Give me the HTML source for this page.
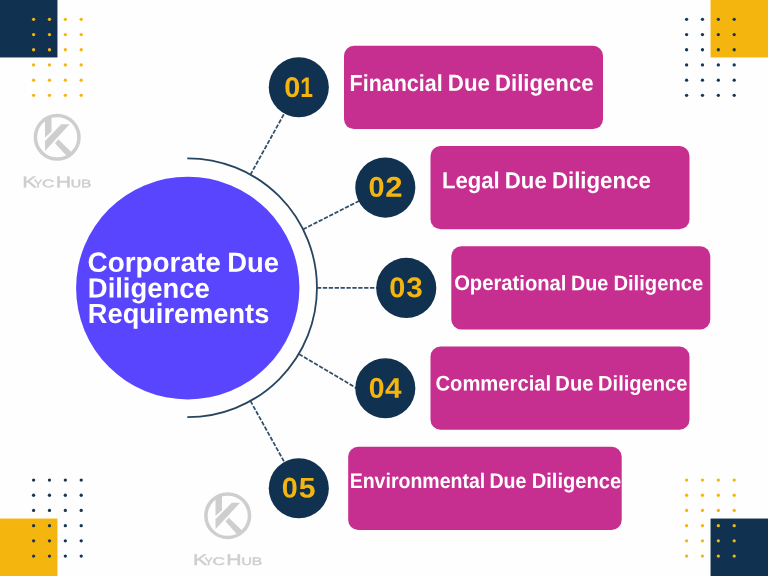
<!DOCTYPE html>
<html lang="en"><head><meta charset="utf-8"><title>Corporate Due Diligence Requirements</title>
<style>html,body{margin:0;padding:0;background:#fefefe;}body{width:768px;height:576px;overflow:hidden;}svg{display:block;will-change:transform;transform:translateZ(0)}text{font-family:"Liberation Sans",sans-serif;font-weight:bold;text-rendering:geometricPrecision}</style></head><body>
<svg width="768" height="576" viewBox="0 0 768 576">
<rect width="768" height="576" fill="#fefefe"/>
<rect x="0" y="0" width="57.45" height="57.45" fill="#10314f"/>
<rect x="710.55" y="0" width="57.45" height="57.45" fill="#f5b50f"/>
<rect x="0" y="518.55" width="57.45" height="57.45" fill="#f5b50f"/>
<rect x="710.55" y="518.55" width="57.45" height="57.45" fill="#10314f"/>
<g fill="#f5b50f"><circle cx="33.60" cy="19.35" r="1.65"/><circle cx="33.60" cy="34.55" r="1.65"/><circle cx="33.60" cy="49.75" r="1.65"/><circle cx="33.60" cy="64.95" r="1.65"/><circle cx="33.60" cy="80.15" r="1.65"/><circle cx="33.60" cy="95.35" r="1.65"/><circle cx="49.47" cy="19.35" r="1.65"/><circle cx="49.47" cy="34.55" r="1.65"/><circle cx="49.47" cy="49.75" r="1.65"/><circle cx="49.47" cy="64.95" r="1.65"/><circle cx="49.47" cy="80.15" r="1.65"/><circle cx="49.47" cy="95.35" r="1.65"/><circle cx="65.34" cy="19.35" r="1.65"/><circle cx="65.34" cy="34.55" r="1.65"/><circle cx="65.34" cy="49.75" r="1.65"/><circle cx="65.34" cy="64.95" r="1.65"/><circle cx="65.34" cy="80.15" r="1.65"/><circle cx="65.34" cy="95.35" r="1.65"/><circle cx="81.21" cy="19.35" r="1.65"/><circle cx="81.21" cy="34.55" r="1.65"/><circle cx="81.21" cy="49.75" r="1.65"/><circle cx="81.21" cy="64.95" r="1.65"/><circle cx="81.21" cy="80.15" r="1.65"/><circle cx="81.21" cy="95.35" r="1.65"/></g>
<g fill="#173654"><circle cx="686.60" cy="19.35" r="1.65"/><circle cx="686.60" cy="34.55" r="1.65"/><circle cx="686.60" cy="49.75" r="1.65"/><circle cx="686.60" cy="64.95" r="1.65"/><circle cx="686.60" cy="80.15" r="1.65"/><circle cx="686.60" cy="95.35" r="1.65"/><circle cx="702.47" cy="19.35" r="1.65"/><circle cx="702.47" cy="34.55" r="1.65"/><circle cx="702.47" cy="49.75" r="1.65"/><circle cx="702.47" cy="64.95" r="1.65"/><circle cx="702.47" cy="80.15" r="1.65"/><circle cx="702.47" cy="95.35" r="1.65"/><circle cx="718.34" cy="19.35" r="1.65"/><circle cx="718.34" cy="34.55" r="1.65"/><circle cx="718.34" cy="49.75" r="1.65"/><circle cx="718.34" cy="64.95" r="1.65"/><circle cx="718.34" cy="80.15" r="1.65"/><circle cx="718.34" cy="95.35" r="1.65"/><circle cx="734.21" cy="19.35" r="1.65"/><circle cx="734.21" cy="34.55" r="1.65"/><circle cx="734.21" cy="49.75" r="1.65"/><circle cx="734.21" cy="64.95" r="1.65"/><circle cx="734.21" cy="80.15" r="1.65"/><circle cx="734.21" cy="95.35" r="1.65"/></g>
<g fill="#173654"><circle cx="33.60" cy="480.05" r="1.65"/><circle cx="33.60" cy="495.25" r="1.65"/><circle cx="33.60" cy="510.45" r="1.65"/><circle cx="33.60" cy="525.65" r="1.65"/><circle cx="33.60" cy="540.85" r="1.65"/><circle cx="33.60" cy="556.05" r="1.65"/><circle cx="49.47" cy="480.05" r="1.65"/><circle cx="49.47" cy="495.25" r="1.65"/><circle cx="49.47" cy="510.45" r="1.65"/><circle cx="49.47" cy="525.65" r="1.65"/><circle cx="49.47" cy="540.85" r="1.65"/><circle cx="49.47" cy="556.05" r="1.65"/><circle cx="65.34" cy="480.05" r="1.65"/><circle cx="65.34" cy="495.25" r="1.65"/><circle cx="65.34" cy="510.45" r="1.65"/><circle cx="65.34" cy="525.65" r="1.65"/><circle cx="65.34" cy="540.85" r="1.65"/><circle cx="65.34" cy="556.05" r="1.65"/><circle cx="81.21" cy="480.05" r="1.65"/><circle cx="81.21" cy="495.25" r="1.65"/><circle cx="81.21" cy="510.45" r="1.65"/><circle cx="81.21" cy="525.65" r="1.65"/><circle cx="81.21" cy="540.85" r="1.65"/><circle cx="81.21" cy="556.05" r="1.65"/></g>
<g fill="#f5b50f"><circle cx="686.60" cy="480.05" r="1.65"/><circle cx="686.60" cy="495.25" r="1.65"/><circle cx="686.60" cy="510.45" r="1.65"/><circle cx="686.60" cy="525.65" r="1.65"/><circle cx="686.60" cy="540.85" r="1.65"/><circle cx="686.60" cy="556.05" r="1.65"/><circle cx="702.47" cy="480.05" r="1.65"/><circle cx="702.47" cy="495.25" r="1.65"/><circle cx="702.47" cy="510.45" r="1.65"/><circle cx="702.47" cy="525.65" r="1.65"/><circle cx="702.47" cy="540.85" r="1.65"/><circle cx="702.47" cy="556.05" r="1.65"/><circle cx="718.34" cy="480.05" r="1.65"/><circle cx="718.34" cy="495.25" r="1.65"/><circle cx="718.34" cy="510.45" r="1.65"/><circle cx="718.34" cy="525.65" r="1.65"/><circle cx="718.34" cy="540.85" r="1.65"/><circle cx="718.34" cy="556.05" r="1.65"/><circle cx="734.21" cy="480.05" r="1.65"/><circle cx="734.21" cy="495.25" r="1.65"/><circle cx="734.21" cy="510.45" r="1.65"/><circle cx="734.21" cy="525.65" r="1.65"/><circle cx="734.21" cy="540.85" r="1.65"/><circle cx="734.21" cy="556.05" r="1.65"/></g>
<g transform="translate(57.2,137.3)" fill="#cecece"><circle cx="0" cy="0" r="21.8" fill="none" stroke="#cecece" stroke-width="3.5"/><polygon points="-12.2,-17.5 -5.7,-20.5 -5.7,-5.55 -12.2,0.3"/><polygon points="-12.2,3.6 4.05,-13.05 12.4,-13.05 -12.2,13.6"/><polygon points="1.1,2.0 -2.2,5.9 9.5,18.8 14.3,14.9"/>
<g transform="translate(-57.2,-137.3)"><text y="187.30" transform="rotate(0.03 22.33 187.30)" font-size="15.8" fill="#cecece" style="font-weight:normal;font-variant:small-caps" stroke="#cecece" stroke-width="0.4"><tspan x="22.33" textLength="14.42" lengthAdjust="spacingAndGlyphs">K</tspan><tspan x="34.03" textLength="8.24" lengthAdjust="spacingAndGlyphs">y</tspan><tspan x="42.03" textLength="12.43" lengthAdjust="spacingAndGlyphs">c</tspan><tspan x="55.65" textLength="15.38" lengthAdjust="spacingAndGlyphs">H</tspan><tspan x="70.89" textLength="10.43" lengthAdjust="spacingAndGlyphs">u</tspan><tspan x="81.12" textLength="10.40" lengthAdjust="spacingAndGlyphs">b</tspan></text></g>
</g>
<g transform="translate(227.7,515.7)" fill="#cecece"><circle cx="0" cy="0" r="21.8" fill="none" stroke="#cecece" stroke-width="3.5"/><polygon points="-12.2,-17.5 -5.7,-20.5 -5.7,-5.55 -12.2,0.3"/><polygon points="-12.2,3.6 4.05,-13.05 12.4,-13.05 -12.2,13.6"/><polygon points="1.1,2.0 -2.2,5.9 9.5,18.8 14.3,14.9"/>
<g transform="translate(-227.7,-515.7)"><text y="565.10" transform="rotate(0.03 192.93 565.10)" font-size="15.8" fill="#cecece" style="font-weight:normal;font-variant:small-caps" stroke="#cecece" stroke-width="0.4"><tspan x="192.93" textLength="14.42" lengthAdjust="spacingAndGlyphs">K</tspan><tspan x="204.63" textLength="8.24" lengthAdjust="spacingAndGlyphs">y</tspan><tspan x="212.63" textLength="12.43" lengthAdjust="spacingAndGlyphs">c</tspan><tspan x="226.25" textLength="15.38" lengthAdjust="spacingAndGlyphs">H</tspan><tspan x="241.49" textLength="10.43" lengthAdjust="spacingAndGlyphs">u</tspan><tspan x="251.72" textLength="10.40" lengthAdjust="spacingAndGlyphs">b</tspan></text></g>
</g>
<ellipse cx="187.75" cy="288.05" rx="111.65" ry="111.4" fill="#5a45ff"/>
<path d="M187.3,158.3 L187.75,158.3 A129.25,129.45 0 0 1 187.75,417.2 L187.3,417.2" fill="none" stroke="#28455f" stroke-width="1.8"/>
<line x1="250.33" y1="174.86" x2="284.75" y2="112.67" stroke="#324e69" stroke-width="1.75" stroke-dasharray="4.3 1.6"/>
<line x1="302.95" y1="229.41" x2="359.44" y2="200.73" stroke="#324e69" stroke-width="1.75" stroke-dasharray="4.3 1.6"/>
<line x1="316.95" y1="287.90" x2="377.25" y2="287.90" stroke="#324e69" stroke-width="1.75" stroke-dasharray="4.3 1.6"/>
<line x1="298.90" y1="354.00" x2="357.00" y2="388.50" stroke="#324e69" stroke-width="1.75" stroke-dasharray="4.3 1.6"/>
<line x1="250.40" y1="400.90" x2="284.74" y2="462.84" stroke="#324e69" stroke-width="1.75" stroke-dasharray="4.3 1.6"/>
<circle cx="298.8" cy="87.3" r="30.05" fill="#10314f"/>
<text y="97.00" transform="rotate(0.03 284.26 97.00)" font-size="28.5" fill="#f5b50f"><tspan x="284.26" textLength="16.02" lengthAdjust="spacingAndGlyphs">0</tspan><tspan x="300.16" textLength="12.73" lengthAdjust="spacingAndGlyphs">1</tspan></text>
<circle cx="385.3" cy="187.6" r="30.05" fill="#10314f"/>
<text y="196.65" transform="rotate(0.03 368.61 196.65)" font-size="28.5" fill="#f5b50f"><tspan x="368.61" textLength="16.08" lengthAdjust="spacingAndGlyphs">0</tspan><tspan x="385.32" textLength="17.33" lengthAdjust="spacingAndGlyphs">2</tspan></text>
<circle cx="406.25" cy="287.9" r="30.05" fill="#10314f"/>
<text y="297.30" transform="rotate(0.03 389.36 297.30)" font-size="28.5" fill="#f5b50f"><tspan x="389.36" textLength="16.08" lengthAdjust="spacingAndGlyphs">0</tspan><tspan x="406.32" textLength="16.50" lengthAdjust="spacingAndGlyphs">3</tspan></text>
<circle cx="385.3" cy="388.2" r="30.05" fill="#10314f"/>
<text y="397.80" transform="rotate(0.03 368.63 397.80)" font-size="28.5" fill="#f5b50f"><tspan x="368.63" textLength="15.79" lengthAdjust="spacingAndGlyphs">0</tspan><tspan x="385.05" textLength="16.51" lengthAdjust="spacingAndGlyphs">4</tspan></text>
<circle cx="298.8" cy="488.2" r="30.05" fill="#10314f"/>
<text y="497.60" transform="rotate(0.03 281.76 497.60)" font-size="28.5" fill="#f5b50f"><tspan x="281.76" textLength="16.02" lengthAdjust="spacingAndGlyphs">0</tspan><tspan x="298.82" textLength="16.77" lengthAdjust="spacingAndGlyphs">5</tspan></text>
<rect x="344" y="45.8" width="259" height="83.3" rx="10" ry="10" fill="#c62e8f"/>
<rect x="430.5" y="146.0" width="259" height="83.3" rx="10" ry="10" fill="#c62e8f"/>
<rect x="451.3" y="246.2" width="259" height="83.3" rx="10" ry="10" fill="#c62e8f"/>
<rect x="430.5" y="346.5" width="259" height="83.3" rx="10" ry="10" fill="#c62e8f"/>
<rect x="348.2" y="446.7" width="273.5" height="83.3" rx="10" ry="10" fill="#c62e8f"/>
<text y="90.70" transform="rotate(0.03 349.56 90.70)" font-size="23.1" fill="#fff"><tspan x="349.56" textLength="93.16" lengthAdjust="spacingAndGlyphs">Financial</tspan> <tspan x="447.81" textLength="42.16" lengthAdjust="spacingAndGlyphs">Due</tspan> <tspan x="495.02" textLength="98.54" lengthAdjust="spacingAndGlyphs">Diligence</tspan></text>
<text y="188.25" transform="rotate(0.03 442.02 188.25)" font-size="23.1" fill="#fff"><tspan x="442.02" textLength="57.74" lengthAdjust="spacingAndGlyphs">Legal</tspan> <tspan x="504.81" textLength="41.94" lengthAdjust="spacingAndGlyphs">Due</tspan> <tspan x="551.91" textLength="98.85" lengthAdjust="spacingAndGlyphs">Diligence</tspan></text>
<text y="290.10" transform="rotate(0.03 454.17 290.10)" font-size="21.2" fill="#fff"><tspan x="454.17" textLength="112.26" lengthAdjust="spacingAndGlyphs">Operational</tspan> <tspan x="570.98" textLength="37.40" lengthAdjust="spacingAndGlyphs">Due</tspan> <tspan x="613.45" textLength="89.74" lengthAdjust="spacingAndGlyphs">Diligence</tspan></text>
<text y="390.40" transform="rotate(0.03 435.47 390.40)" font-size="21.2" fill="#fff"><tspan x="435.47" textLength="115.66" lengthAdjust="spacingAndGlyphs">Commercial</tspan> <tspan x="555.35" textLength="38.03" lengthAdjust="spacingAndGlyphs">Due</tspan> <tspan x="598.06" textLength="89.33" lengthAdjust="spacingAndGlyphs">Diligence</tspan></text>
<text y="488.00" transform="rotate(0.03 349.70 488.00)" font-size="21.2" fill="#fff"><tspan x="349.70" textLength="135.49" lengthAdjust="spacingAndGlyphs">Environmental</tspan> <tspan x="489.49" textLength="36.98" lengthAdjust="spacingAndGlyphs">Due</tspan> <tspan x="531.75" textLength="89.43" lengthAdjust="spacingAndGlyphs">Diligence</tspan></text>
<text y="271.80" transform="rotate(0.03 87.56 271.80)" font-size="27.8" fill="#fff"><tspan x="87.56" y="271.80" textLength="133.20" lengthAdjust="spacingAndGlyphs">Corporate</tspan> <tspan x="227.17" y="271.80" textLength="51.77" lengthAdjust="spacingAndGlyphs">Due</tspan> <tspan x="87.87" y="297.60" textLength="121.87" lengthAdjust="spacingAndGlyphs">Diligence</tspan> <tspan x="87.88" y="323.00" textLength="181.44" lengthAdjust="spacingAndGlyphs">Requirements</tspan></text>
</svg></body></html>
